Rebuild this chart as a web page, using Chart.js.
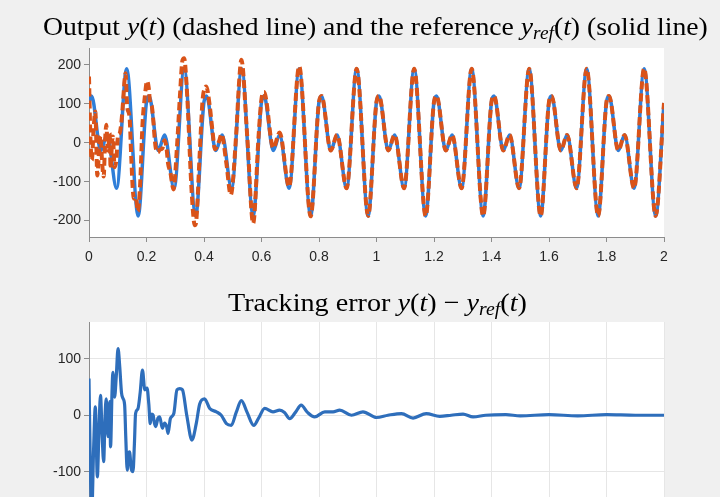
<!DOCTYPE html>
<html>
<head>
<meta charset="utf-8">
<script src="https://cdn.jsdelivr.net/npm/chart.js@4.4.1/dist/chart.umd.min.js"></script>
<style>
html,body{margin:0;padding:0;background:#f0f0f0;width:720px;height:497px;overflow:hidden}
#fig{position:relative;width:720px;height:497px;overflow:hidden}
.box{position:absolute;left:0}
.ttl{position:absolute;white-space:nowrap;font-family:"Liberation Serif","Times New Roman",serif;font-size:26px;line-height:26px;color:#000;transform-origin:0 0}
.ttl .sb{font-size:0.7em;position:relative;top:0.22em}
</style>
</head>
<body>
<div id="fig">
  <div class="box" style="top:0"><canvas id="outChart" width="720" height="280"></canvas></div>
  <div class="box" style="top:280px"><canvas id="errChart" width="720" height="300"></canvas></div>
  <div class="ttl" id="t1" style="top:14px">Output <i>y</i>(<i>t</i>) (dashed line) and the reference <i>y</i><span class="sb"><i>ref</i></span>(<i>t</i>) (solid line)</div>
  <div class="ttl" id="t2" style="top:290px">Tracking error <i>y</i>(<i>t</i>) − <i>y</i><span class="sb"><i>ref</i></span>(<i>t</i>)</div>
</div>
<script>
'use strict';
// reference y_ref(t), key points per 0.2 s period
const tRef=[
  0,0.009,0.041,0.063,0.096,0.131,0.171,
  0.2,0.209,0.241,0.263,0.296,0.331,0.371,
  0.4,0.409,0.441,0.463,0.496,0.531,0.571,
  0.6,0.609,0.641,0.663,0.696,0.731,0.771,
  0.8,0.809,0.841,0.863,0.896,0.931,0.971,
  1.0,1.009,1.041,1.063,1.096,1.131,1.171,
  1.2,1.209,1.241,1.263,1.296,1.331,1.371,
  1.4,1.409,1.441,1.463,1.496,1.531,1.571,
  1.6,1.609,1.641,1.663,1.696,1.731,1.771,
  1.8,1.809,1.841,1.863,1.896,1.931,1.971,
  2.0];
const yRef=[
  105,120,-20,20,-117,190,-188,
  105,120,-20,20,-117,190,-188,
  105,120,-20,20,-117,190,-188,
  105,120,-20,20,-117,190,-188,
  105,120,-20,20,-117,190,-188,
  105,120,-20,20,-117,190,-188,
  105,120,-20,20,-117,190,-188,
  105,120,-20,20,-117,190,-188,
  105,120,-20,20,-117,190,-188,
  105,120,-20,20,-117,190,-188,
  102];

// output y(t)
const tOut=[
  0,0.005,0.010,0.016,0.022,0.029,0.035,0.040,0.046,0.051,
  0.056,0.060,0.066,0.072,0.075,0.080,0.083,0.089,0.095,0.101,
  0.107,0.113,0.118,0.124,0.127,0.133,0.141,0.147,0.153,0.158,
  0.163,0.170,0.178,0.186,0.194,0.202,0.208,0.213,0.218,0.223,
  0.228,0.232,0.240,0.246,0.255,0.263,0.270,0.275,0.283,0.294,
  0.306,0.316,0.325,0.331,0.340,0.358,0.368,0.373,0.385,0.395,
  0.402,0.408,0.420,0.430,0.438,0.452,0.461,0.478,0.493,0.512,
  0.522,0.530,0.550,0.571,0.590,0.600,0.609,0.641,0.663,0.696,
  0.731,0.771,
  0.8,0.809,0.841,0.863,0.896,0.931,0.971,
  1.0,1.009,1.041,1.063,1.096,1.131,1.171,
  1.2,1.209,1.241,1.263,1.296,1.331,1.371,
  1.4,1.409,1.441,1.463,1.496,1.531,1.571,
  1.6,1.609,1.641,1.663,1.696,1.731,1.771,
  1.8,1.809,1.841,1.863,1.896,1.931,1.971,
  2.0];
const yOut=[
  170,12,-45,35,80,-84,-20,17,-55,-87,
  5,46,-20,24,-66,0,16,-63,-45,18,
  25,55,100,163,178,91,66,-38,-127,-144,
  -140,-176,-105,46,117,158,140,99,95,63,
  15,-13,-25,-18,-15,6,-16,-53,-76,-120,
  -11,116,211,217,141,-138,-212,-201,-29,109,
  139,144,94,27,-17,3,22,-54,-134,22,
  155,213,20,-207,19,113,130,-14,26,-113,
  196,-189,
  105,120,-20,20,-117,190,-188,
  105,120,-20,20,-117,190,-188,
  105,120,-20,20,-117,190,-188,
  105,120,-20,20,-117,190,-188,
  105,120,-20,20,-117,190,-188,
  105,120,-20,20,-117,190,-188,
  102];

// tracking error y(t) - y_ref(t)
const tErr=[
  0,0.005,0.010,0.016,0.022,0.029,0.035,0.040,0.046,0.051,
  0.056,0.060,0.066,0.072,0.075,0.080,0.083,0.089,0.095,0.101,
  0.107,0.113,0.118,0.124,0.128,0.133,0.137,0.141,0.147,0.153,
  0.158,0.162,0.170,0.178,0.186,0.194,0.202,0.208,0.213,0.218,
  0.223,0.228,0.232,0.240,0.246,0.255,0.263,0.270,0.275,0.283,
  0.295,0.306,0.316,0.325,0.340,0.358,0.373,0.385,0.402,0.420,
  0.443,0.460,0.478,0.495,0.512,0.530,0.550,0.573,0.590,0.611,
  0.640,0.663,0.680,0.698,0.718,0.738,0.760,0.785,0.820,0.849,
  0.872,0.913,0.953,1.000,1.040,1.087,1.127,1.173,1.220,1.260,
  1.301,1.336,1.380,1.450,1.500,1.600,1.700,1.800,1.900,2.000];
const eErr=[
  65,-103,-165,-60,15,-109,-20,35,-40,-82,
  0,29,-38,24,-56,40,76,32,70,118,
  85,40,30,18,-40,-97,-70,-65,-95,-100,
  -50,3,11,40,80,45,48,20,-15,2,
  0,-15,-20,-5,-3,-23,-14,-20,-32,-6,
  3,45,47,45,0,-44,-15,20,29,12,
  6,0,-15,-18,5,26,5,-18,-5,12,
  6,9,5,-6,5,18,5,-3,6,6,
  9,0,6,-4,0,3,-5,3,-2,0,
  2,-3,0,1,-1,1,-1,1,0,0];

// tick values
const tTicks=[0,0.2,0.4,0.6,0.8,1,1.2,1.4,1.6,1.8,2];
const yTicksOut=[-200,-100,0,100,200];
const yTicksErr=[-200,-100,0,100];

const AX='#8c8c8c', TXT='#262626', GRID='#e6e6e6';
const tickFont={family:'"Liberation Sans", Arial, sans-serif', size:14};
const pts=(ts,vs)=>ts.map((t,i)=>({x:t,y:vs[i]}));
const setTicks=vals=>s=>{ s.ticks=vals.map(v=>({value:v})); };

const areaFill={
  id:'areaFill',
  beforeDraw(c){
    const a=c.chartArea, ctx=c.ctx;
    ctx.save(); ctx.fillStyle='#fff';
    ctx.fillRect(a.left,a.top,a.right-a.left,a.bottom-a.top);
    ctx.restore();
  }
};

function baseOpts(top,xh,yTicks){
  return {
    responsive:false, animation:false,
    layout:{padding:{left:0,right:56,top:top,bottom:0}},
    elements:{point:{radius:0}, line:{cubicInterpolationMode:'monotone', borderCapStyle:'butt'}},
    plugins:{legend:{display:false}, tooltip:{enabled:false}},
    scales:{
      x:{type:'linear', min:0, max:2, afterFit:s=>{s.height=xh;}, afterBuildTicks:setTicks(tTicks),
        ticks:{autoSkip:false, maxRotation:0, color:TXT, font:tickFont, padding:7,
          callback:v=>String(Math.round(v*10)/10)}},
      y:{type:'linear', afterFit:s=>{s.width=89;}, afterBuildTicks:setTicks(yTicks),
        ticks:{color:TXT, font:tickFont, padding:3}}
    }
  };
}

const o1=baseOpts(48,43,yTicksOut);
o1.scales.x.grid={drawOnChartArea:false, color:AX, tickLength:5};
o1.scales.x.border={color:AX};
o1.scales.y.min=-242; o1.scales.y.max=243;
o1.scales.y.grid={drawOnChartArea:false, color:AX, tickLength:5};
o1.scales.y.border={color:AX};

new Chart(document.getElementById('outChart'),{
  type:'line',
  data:{datasets:[
    {label:'y(t)', data:pts(tOut,yOut), borderColor:'#D95319', borderWidth:4, borderDash:[8,4], order:1},
    {label:'yref(t)', data:pts(tRef,yRef), borderColor:'#2F7ED8', borderWidth:3.5, order:2}
  ]},
  options:o1,
  plugins:[areaFill]
});

const o2=baseOpts(42,32,yTicksErr);
o2.scales.x.grid={color:GRID, tickColor:AX, tickLength:5};
o2.scales.x.border={display:false};
o2.scales.y.min=-235; o2.scales.y.max=165;
o2.scales.y.grid={color:GRID, tickColor:AX, tickLength:5};
o2.scales.y.border={color:AX};

new Chart(document.getElementById('errChart'),{
  type:'line',
  data:{datasets:[
    {label:'error', data:pts(tErr,eErr), borderColor:'#2E6EBB', borderWidth:3.2}
  ]},
  options:o2,
  plugins:[areaFill]
});

function fitTitle(id,left,right){
  const el=document.getElementById(id);
  el.style.transform='none';
  const w=el.offsetWidth;
  el.style.left=left+'px';
  el.style.transform='scaleX('+((right-left)/w)+')';
}
function fitAll(){ fitTitle('t1',43,708); fitTitle('t2',228,527); }
fitAll();
if(document.fonts) document.fonts.ready.then(fitAll);
</script>
</body>
</html>
